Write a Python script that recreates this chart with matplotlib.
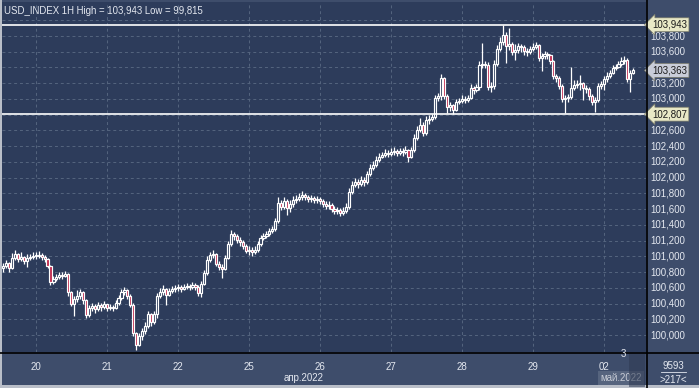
import matplotlib
matplotlib.use('Agg')
import matplotlib.pyplot as plt
import matplotlib.transforms as mtransforms
from matplotlib.patches import Rectangle
from matplotlib.lines import Line2D
import numpy as np

# ---- data: USD_INDEX, 1H bars (Apr 19 13:00 .. May 02) ----
first_open = 100.85
close = [
    100.88, 100.92, 100.85, 100.98, 101.03, 100.97, 100.99, 100.94, 100.98, 100.99, 101.01,
    101.01, 101.02, 100.99, 100.97, 100.88, 100.68, 100.71, 100.74, 100.76, 100.75, 100.78, 100.55,
    100.40, 100.46, 100.50, 100.55, 100.45, 100.26, 100.35, 100.37, 100.33, 100.38, 100.36, 100.40,
    100.35, 100.36, 100.35, 100.41, 100.47, 100.55, 100.57, 100.50, 100.38, 100.03, 99.88, 99.99,
    100.05, 100.12, 100.27, 100.17, 100.27, 100.50, 100.55, 100.59, 100.51, 100.56, 100.59, 100.60,
    100.61, 100.59, 100.61, 100.62, 100.61, 100.64, 100.61, 100.54, 100.65, 100.79, 100.96, 101.02,
    101.03, 100.90, 100.87, 100.84, 100.98, 101.16, 101.29, 101.26, 101.21, 101.18, 101.13, 101.07,
    101.08, 101.06, 101.08, 101.16, 101.23, 101.26, 101.29, 101.32, 101.35, 101.45, 101.68, 101.63,
    101.70, 101.62, 101.67, 101.72, 101.73, 101.76, 101.78, 101.76, 101.73, 101.74, 101.72, 101.73,
    101.70, 101.67, 101.64, 101.65, 101.60, 101.58, 101.59, 101.55, 101.58, 101.63, 101.82, 101.91,
    101.95, 101.92, 101.97, 101.95, 102.05, 102.12, 102.16, 102.22, 102.26, 102.29, 102.31, 102.30,
    102.33, 102.34, 102.31, 102.34, 102.33, 102.35, 102.26, 102.35, 102.50, 102.61, 102.67, 102.57,
    102.73, 102.75, 102.77, 103.01, 103.04, 103.27, 103.04, 102.90, 102.92, 102.86, 102.96, 102.97,
    103.00, 102.99, 103.01, 103.14, 103.11, 103.15, 103.43, 103.44, 103.43, 103.15, 103.16, 103.44,
    103.63, 103.72, 103.81, 103.67, 103.70, 103.60, 103.62, 103.67, 103.66, 103.61, 103.60, 103.63,
    103.66, 103.69, 103.52, 103.55, 103.57, 103.56, 103.48, 103.29, 103.27, 103.16, 103.00, 103.01,
    103.02, 103.14, 103.18, 103.19, 103.20, 103.14, 103.13, 103.04, 102.96, 102.99, 103.16, 103.19,
    103.25, 103.29, 103.33, 103.39, 103.41, 103.44, 103.48, 103.50, 103.25, 103.33, 103.363,
]
high = [
    100.92, 100.95, 100.93, 101.04, 101.08, 101.04, 101.06, 101.01, 101.03, 101.03, 101.06,
    101.06, 101.07, 101.04, 101.02, 100.98, 100.89, 100.75, 100.78, 100.80, 100.80, 100.82, 100.79,
    100.56, 100.50, 100.57, 100.59, 100.56, 100.46, 100.38, 100.41, 100.40, 100.42, 100.41, 100.43,
    100.38, 100.40, 100.38, 100.45, 100.51, 100.59, 100.61, 100.59, 100.52, 100.41, 100.04, 100.03,
    100.09, 100.17, 100.31, 100.28, 100.31, 100.54, 100.60, 100.64, 100.60, 100.60, 100.62, 100.64,
    100.65, 100.64, 100.65, 100.66, 100.65, 100.68, 100.66, 100.64, 100.69, 100.83, 101.01, 101.06,
    101.08, 101.04, 100.94, 100.90, 101.02, 101.20, 101.34, 101.31, 101.29, 101.25, 101.21, 101.16,
    101.13, 101.12, 101.13, 101.20, 101.27, 101.30, 101.32, 101.36, 101.39, 101.49, 101.76, 101.72,
    101.76, 101.73, 101.72, 101.77, 101.78, 101.81, 101.83, 101.81, 101.78, 101.78, 101.77, 101.77,
    101.76, 101.73, 101.70, 101.70, 101.68, 101.64, 101.63, 101.62, 101.63, 101.68, 101.87, 101.96,
    102.00, 101.98, 102.02, 102.01, 102.09, 102.17, 102.21, 102.28, 102.31, 102.33, 102.36, 102.35,
    102.38, 102.39, 102.36, 102.38, 102.38, 102.40, 102.36, 102.39, 102.56, 102.66, 102.76, 102.71,
    102.78, 102.80, 102.81, 103.05, 103.08, 103.32, 103.28, 103.06, 102.96, 102.94, 103.00, 103.01,
    103.05, 103.04, 103.05, 103.19, 103.16, 103.19, 103.48, 103.71, 103.48, 103.47, 103.21, 103.50,
    103.69, 103.79, 103.943, 103.85, 103.90, 103.72, 103.70, 103.71, 103.70, 103.69, 103.65, 103.67,
    103.71, 103.72, 103.70, 103.58, 103.61, 103.60, 103.57, 103.50, 103.32, 103.29, 103.19, 103.05,
    103.06, 103.41, 103.24, 103.24, 103.30, 103.22, 103.18, 103.15, 103.06, 103.02, 103.20, 103.23,
    103.29, 103.34, 103.37, 103.43, 103.44, 103.48, 103.53, 103.55, 103.52, 103.37, 103.39,
]
low = [
    100.80, 100.85, 100.80, 100.84, 100.96, 100.93, 100.94, 100.90, 100.87, 100.96, 100.97,
    100.97, 100.98, 100.96, 100.93, 100.85, 100.64, 100.65, 100.69, 100.71, 100.71, 100.74, 100.50,
    100.37, 100.24, 100.42, 100.46, 100.40, 100.22, 100.23, 100.31, 100.28, 100.31, 100.31, 100.33,
    100.31, 100.32, 100.31, 100.33, 100.38, 100.45, 100.51, 100.46, 100.36, 99.99, 99.815, 99.86,
    99.94, 100.02, 100.09, 100.12, 100.14, 100.22, 100.47, 100.51, 100.38, 100.50, 100.54, 100.55,
    100.56, 100.55, 100.57, 100.59, 100.57, 100.59, 100.57, 100.50, 100.49, 100.64, 100.76, 100.93,
    100.98, 100.88, 100.83, 100.73, 100.83, 100.97, 101.13, 101.21, 101.17, 101.13, 101.09, 101.04,
    101.02, 101.01, 101.03, 101.06, 101.13, 101.21, 101.23, 101.26, 101.30, 101.32, 101.43, 101.59,
    101.60, 101.53, 101.57, 101.63, 101.68, 101.70, 101.72, 101.72, 101.69, 101.69, 101.68, 101.68,
    101.67, 101.63, 101.60, 101.60, 101.57, 101.54, 101.54, 101.51, 101.53, 101.55, 101.60, 101.79,
    101.88, 101.87, 101.89, 101.89, 101.92, 102.02, 102.10, 102.14, 102.20, 102.25, 102.26, 102.26,
    102.28, 102.29, 102.28, 102.29, 102.28, 102.30, 102.20, 102.25, 102.33, 102.48, 102.58, 102.53,
    102.54, 102.68, 102.72, 102.75, 102.97, 102.99, 103.00, 102.82, 102.85, 102.81, 102.85, 102.94,
    102.95, 102.95, 102.96, 103.00, 103.06, 103.09, 103.11, 103.39, 103.39, 103.11, 103.09, 103.13,
    103.42, 103.61, 103.69, 103.46, 103.62, 103.56, 103.50, 103.58, 103.60, 103.56, 103.55, 103.57,
    103.61, 103.63, 103.48, 103.36, 103.51, 103.51, 103.44, 103.25, 103.22, 103.13, 102.96, 102.82,
    102.96, 103.00, 103.11, 103.14, 103.11, 102.99, 103.08, 102.99, 102.92, 102.83, 102.96, 103.13,
    103.11, 103.22, 103.27, 103.32, 103.37, 103.39, 103.42, 103.44, 103.22, 103.09, 103.32,
]
day_labels = ['20', '21', '22', '25', '26', '27', '28', '29', '02']
day_start_bar = [11, 35, 59, 83, 107, 131, 155, 179, 203]
level_high = 103.943
level_low = 102.807
last_price = 103.363
title = 'USD_INDEX 1H High = 103,943 Low = 99,815'
bars_total = '9593'
bars_visible = '>217<'

# ---- style ----
W, H = 699, 388
BG = '#2d3c5b'
PANEL = '#3e4d6b'
GRID = '#55657f'
RED = '#c0284c'
TXT = '#e4e8f0'
FONT = 'Liberation Sans'


def fx(x):
    return x / W


def fy(y):
    return 1 - y / H


fig = plt.figure(figsize=(W / 100, H / 100), dpi=100)
fig.patch.set_facecolor(PANEL)
ax = fig.add_axes([fx(2), fy(352), fx(644), 350 / H])
ax.set_facecolor(BG)
ax.set_xlim(-0.39, 217.3)
ax.set_ylim(99.785, 104.232)
ax.set_xticks([])
ax.set_yticks([])
for s in ax.spines.values():
    s.set_visible(False)

yticks = np.round(np.arange(100.0, 104.01, 0.2), 1)
for v in yticks:
    ax.axhline(v, color=GRID, lw=0.7, ls=(0, (3, 3)), zorder=1)
for d in day_start_bar:
    ax.axvline(d, color=GRID, lw=0.7, ls=(0, (3, 3)), zorder=1)

# candles
c = np.array(close)
hi = np.array(high)
lo = np.array(low)
o = np.r_[first_open, c[:-1]]
x = np.arange(len(c))
up = c >= o
bot = np.minimum(o, c)
hgt = np.maximum(np.abs(c - o), 0.008)
ax.vlines(x, lo, hi, color='white', lw=0.9, zorder=3)
ax.bar(x[up], hgt[up], bottom=bot[up], width=0.72, facecolor=BG,
       edgecolor='white', lw=0.85, zorder=4)
ax.bar(x[~up], hgt[~up], bottom=bot[~up], width=0.72, facecolor=RED,
       edgecolor='white', lw=0.85, zorder=4)

ax.axhline(level_high, color='white', lw=1.2, zorder=5)
ax.axhline(level_low, color='white', lw=1.2, zorder=5)

fig.text(fx(4), fy(11), title, color=TXT, fontsize=6.9, family=FONT, va='center')

# right price axis
boxes = [(level_high, '#e8e8c6'), (level_low, '#e8e8c6'), (last_price, '#c9cdd8')]
ytrans = mtransforms.blended_transform_factory(fig.transFigure, ax.transData)
for v in yticks:
    if min(abs(v - b) for b, _ in boxes) < 0.075:
        continue  # hidden behind a price box
    ax.text(fx(650), v, f'{v:.3f}'.replace('.', ','), transform=ytrans, clip_on=False,
            color=TXT, fontsize=7, family=FONT, va='center', ha='left', zorder=6)

for val, fc in boxes:
    ax.text(fx(652), val, f'{val:.3f}'.replace('.', ','), transform=ytrans, clip_on=False,
            color='#1a1a1a', fontsize=7, family=FONT, va='center', ha='left', zorder=8,
            bbox=dict(boxstyle='larrow,pad=0.2', fc=fc, ec='#7a7a68', lw=0.5))

# bottom date axis
xtrans = mtransforms.blended_transform_factory(ax.transData, fig.transFigure)
for d, lbl in zip(day_start_bar, day_labels):
    ax.text(d, fy(367), lbl, transform=xtrans, clip_on=False, color=TXT,
            fontsize=7, family=FONT, ha='center', va='center')
fig.text(fx(304), fy(378), 'апр.2022', color=TXT, fontsize=7, family=FONT,
         ha='center', va='center')
fig.text(fx(621), fy(378), 'май.2022', color='#c8ccd6', fontsize=7, family=FONT,
         ha='center', va='center',
         bbox=dict(boxstyle='square,pad=0.25', fc='#56647e', ec='none'))
fig.add_artist(Rectangle((fx(629), fy(387)), 16 / W, 33 / H, transform=fig.transFigure,
                         fc='#2e3a52', alpha=0.55, ec='none', zorder=5))
fig.text(fx(623), fy(354), '3', color=TXT, fontsize=7, family=FONT, ha='center', va='center')

fig.text(fx(673), fy(366), bars_total, color=TXT, fontsize=7, family=FONT, ha='center', va='center')
fig.add_artist(Line2D([fx(661), fx(686)], [fy(372), fy(372)], color=TXT, lw=0.6))
fig.text(fx(673), fy(380), bars_visible, color=TXT, fontsize=7, family=FONT, ha='center', va='center')

# frame lines
fig.add_artist(Line2D([fx(646.5), fx(646.5)], [0, 1], color='black', lw=1.2))
fig.add_artist(Line2D([0, 1], [fy(352.5), fy(352.5)], color='black', lw=1.2))
fig.add_artist(Rectangle((0, 0), 1, 3 / H, transform=fig.transFigure, fc='#b9bec8', ec='none'))
fig.add_artist(Rectangle((0, 0), 1.5 / W, 1, transform=fig.transFigure, fc='#b9bec8', ec='none'))

fig.savefig('out.png', dpi=100, facecolor=fig.get_facecolor())
